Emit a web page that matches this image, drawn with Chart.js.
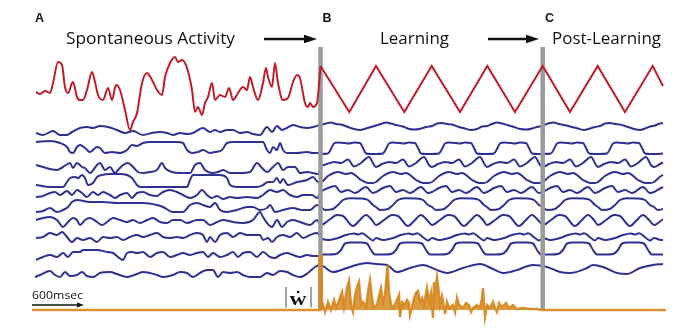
<!DOCTYPE html>
<html><head><meta charset="utf-8">
<script src="https://cdn.jsdelivr.net/npm/chart.js@4.4.0/dist/chart.umd.min.js"></script>
<style>html,body{margin:0;padding:0;background:#fff;}canvas{display:block;}</style>
</head><body>
<canvas id="c" width="700" height="328"></canvas>
<script>
// Time in samples (1 sample ~ 11.6 ms); each trace value = deviation from that trace's resting level.
const panelLetters = ['A', 'B', 'C'];
const phaseTitles = ['Spontaneous Activity', 'Learning', 'Post-Learning'];
const scaleBarLabel = '600msec';
const phaseBoundaries = [285.5, 507.7];
const boundaryTop = 281;
const redLevel = 238;
const orangeLevel = 18;
const laneLevels = [198, 180, 160, 147, 134, 121, 107, 91, 79, 59];

const redTrace = [[1,-2],[5,-4],[10,-1],[15,-3],[18,7],[23,28],[27,25],[30,3],[33,-3],[37,7],[38,8],[42,-7],[45,-10],[48,-10],[52,0],[57,18],[60,8],[63,-5],[68,-10],[73,2],[77,-10],[81,5],[85,0],[90,-20],[95,-40],[98,-32],[102,-23],[107,7],[112,17],[117,10],[122,0],[127,-5],[130,13],[135,27],[140,33],[143,28],[147,30],[152,22],[157,0],[160,-22],[163,-17],[167,-25],[170,-13],[173,-7],[177,7],[180,-10],[185,-5],[190,-7],[194,2],[198,-10],[203,-3],[208,3],[212,0],[215,13],[218,3],[223,-10],[228,7],[231,22],[233,13],[237,3],[240,27],[243,7],[248,-10],[253,-8],[258,8],[262,15],[265,12],[270,-13],[273,-17],[275,-13],[278,-17],[282,-13],[285.5,24],
 [314.3,-22],[341,24],[369.3,-22],[396.7,24],[425,-22],[452.3,24],[480,-22],[507.7,24],[535,-22],[562.7,24],[590,-22],[617.7,24],[628,4]];

const blue1 = [[1,-3],[8,-5],[18,-1],[25,-5],[32,-5],[37,-2],[45,2],[52,3],[58,2],[65,4],[73,3],[82,0],[90,-3],[98,-1],[108,-5],[117,-3],[125,-2],[132,-3],[138,-5],[145,-3],[152,-4],[158,-3],[168,2],[175,-2],[180,0],[185,-2],[192,0],[198,0],[205,-3],[212,-2],[218,-4],[225,-5],[232,3],[237,-2],[242,4],[247,0],[252,2],[258,5],[265,3],[273,2],[278,3],[285,5],
 [291,6.5],[296,7.5],[301,6],[306,5.5],[313,3],[319,1],[325,0],[331,1.5],[336,3],
 [341,4.5],[346,6],[351,7.5],[356,6.5],[361,5],[368,3.5],[374,1],[380,0.5],[386,1.5],[391,3],
 [397,4],[402,6.5],[407,7],[412,6],[417,5.5],[424,3],[430,1.5],[436,0],[442,1],[447,3.5],
 [452,4],[457,6],[462,7.5],[467,6.5],[472,5],[479,3],[485,1],[491,0.5],[497,1.5],[502,3],
 [508,4.5],[513,6.5],[519,7.5],[524,6],[529,5],[537,3],[543,1.5],[549,0],[555,1.5],[560,3],
 [565,4],[570,6.5],[575,7],[580,6],[585,5.5],[593,3],[599,1],[605,0],[610,1.5],[615,3.5],
 [620,4.5],[625,6.5],[628,7]];

const blue2 = [[1,6],[15,7],[25,5],[32,1],[35,-4],[38,-5],[42,1],[45,3],[50,0],[55,-4],[62,1],[65,0],[70,-5],[77,-4],[85,-5],[92,-2],[97,3],[102,2],[108,5],[115,6],[123,6],[132,6],[142,6],[148,5],[152,-2],[157,-5],[163,-4],[168,-2],[175,-5],[180,-4],[187,-2],[192,5],[198,6],[208,6],[228,6],[232,-2],[235,-5],[238,1],[242,-2],[245,5],[248,-2],[252,-5],[262,-5],[272,-4],[278,-5],[283,-5],
 [286,-6],[293,-5.5],[296,-1],[299,4.5],[303,5.5],[310,5],[314,4.5],[319,5.5],[325,5],[328,0],[331,-5.5],[336,-6],
 [341,-6],[348,-5.5],[351,-1],[354,4.5],[358,5.5],[365,5],[369,4.5],[374,5.5],[380,5],[383,0],[386,-5.5],[391,-6],
 [397,-6],[404,-5.5],[407,-1],[410,4.5],[414,5.5],[421,5],[425,4.5],[430,5.5],[436,5],[439,0],[442,-5.5],[447,-6],
 [452,-6],[459,-5.5],[462,-1],[465,4.5],[469,5.5],[476,5],[480,4.5],[485,5.5],[491,5],[494,0],[497,-5.5],[502,-6],
 [508,-6],[516,-5.5],[519,-1],[522,4.5],[526,5.5],[533,5],[537,4.5],[542,5.5],[548,5],[551,0],[554,-5.5],[559,-6],
 [564,-6],[572,-5.5],[575,-1],[578,4.5],[582,5.5],[589,5],[593,4.5],[598,5.5],[604,5],[607,0],[610,-5.5],[615,-6],
 [621,-6],[628,-5.5]];

const blue3 = [[1,3],[8,1],[15,-1],[22,-2],[28,1],[35,5],[38,0],[42,5],[47,1],[50,0],[55,-5],[62,3],[65,5],[70,-2],[75,1],[80,-5],[83,-2],[88,3],[93,5],[98,1],[103,-4],[108,-5],[115,-4],[122,-2],[127,5],[130,0],[137,-4],[145,-5],[155,-5],[160,3],[165,5],[170,-2],[177,-5],[183,-4],[188,-2],[195,-5],[205,-5],[215,-4],[222,5],[227,0],[232,-4],[238,1],[243,5],[248,-2],[253,1],[260,1],[265,-5],[272,-4],[278,-5],[283,-6],
 [286,1],[292,4],[299,6],[306,5],[313,8.5],[319,1.5],[326,5],[334,11],[339,3],
 [341,1],[347,4],[354,6],[361,5],[368,8.5],[374,1.5],[381,5],[389,11],[394,3],
 [397,1],[403,4],[410,6],[417,5],[424,8.5],[430,1.5],[437,5],[445,11],[450,3],
 [452,1],[458,4],[465,6],[472,5],[479,8.5],[485,1.5],[492,5],[500,11],[505,3],
 [508,1],[514,4],[521,6],[528,5],[535,8.5],[541,1.5],[548,5],[556,11],[561,3],
 [563,1],[569,4],[576,6],[583,5],[590,8.5],[596,1.5],[603,5],[611,11],[616,3],
 [619,1],[625,4],[628,5.5]];

const blue4 = [[1,-4],[15,-6],[28,-6],[32,-1],[35,3],[40,4],[43,3],[47,6],[50,3],[53,-4],[58,-2],[62,4],[67,6],[75,7],[85,7],[92,6],[97,3],[102,-4],[105,-6],[122,-6],[135,-6],[152,-6],[155,1],[158,6],[172,6],[185,6],[192,3],[195,-4],[202,-6],[222,-6],[228,-4],[233,-1],[238,-1],[242,3],[245,-2],[248,2],[253,-4],[262,-1],[272,1],[278,4],[283,-1],
 [286,-1],[293,5],[303,9],[311,7],[316,8],[326,1],[333,-2],[338,-2],
 [341,-1],[348,5],[358,9],[366,7],[371,8],[381,1],[388,-2],[393,-2],
 [397,-1],[404,5],[414,9],[422,7],[427,8],[437,1],[444,-2],[449,-2],
 [452,-1],[459,5],[469,9],[477,7],[482,8],[492,1],[499,-2],[504,-2],
 [508,-1],[515,5],[525,9],[533,7],[538,8],[548,1],[555,-2],[560,-2],
 [563,-1],[570,5],[580,9],[588,7],[593,8],[603,1],[610,-2],[615,-2],
 [619,-1],[626,5],[628,6]];

const blue5 = [[1,-3],[8,-2],[15,1],[20,2],[25,-1],[32,3],[37,-1],[42,4],[47,1],[52,-3],[58,2],[63,-1],[68,2],[75,-1],[80,-4],[85,-1],[92,1],[97,-4],[102,1],[108,2],[115,-1],[122,-2],[128,2],[135,4],[142,2],[148,-1],[155,-4],[162,-1],[167,4],[172,-1],[177,-4],[182,-2],[188,-5],[195,-3],[202,-4],[212,-3],[222,-4],[228,-1],[235,4],[242,2],[248,4],[255,-1],[262,-3],[268,-1],[277,-1],[282,-4],
 [286,2],[293,6],[300,8],[306,2],[313,4],[320,1],[331,7],[338,1],
 [341,2],[348,6],[355,8],[361,2],[368,4],[375,1],[386,7],[393,1],
 [397,2],[404,6],[411,8],[417,2],[424,4],[431,1],[442,7],[449,1],
 [452,2],[459,6],[466,8],[472,2],[479,4],[486,1],[497,7],[504,1],
 [508,2],[515,6],[522,8],[528,2],[535,4],[542,1],[553,7],[560,1],
 [563,2],[570,6],[577,8],[583,2],[590,4],[597,1],[608,7],[615,1],
 [619,2],[626,6],[628,7]];

const blue6 = [[1,-5],[8,-4],[15,-1],[22,-5],[28,-3],[33,0],[37,5],[42,7],[55,5],[68,5],[82,4],[95,4],[108,4],[122,2],[128,0],[138,-5],[148,-5],[155,2],[162,4],[168,2],[175,0],[180,4],[185,-3],[192,-5],[202,-3],[212,0],[218,0],[225,-3],[232,-1],[235,2],[240,-5],[248,-3],[258,-1],[267,-3],[275,-3],[282,2],
 [286,0],[290,-3],[298,-2],[303,2],[308,7],[315,8.7],[326,8.5],[333,7],[338,2],
 [341,0],[345,-3],[353,-2],[358,2],[363,7],[370,8.7],[381,8.5],[388,7],[393,2],
 [397,0],[401,-3],[409,-2],[414,2],[419,7],[426,8.7],[437,8.5],[444,7],[449,2],
 [452,0],[456,-3],[464,-2],[469,2],[474,7],[481,8.7],[492,8.5],[499,7],[504,2],
 [508,0],[512,-3],[520,-2],[525,2],[530,7],[537,8.7],[548,8.5],[555,7],[560,2],
 [563,0],[567,-3],[575,-2],[580,2],[585,7],[592,8.7],[603,8.5],[610,7],[615,2],
 [619,0],[623,-3],[628,-2]];

const blue7 = [[1,1],[8,3],[15,4],[22,1],[28,-6],[33,-1],[38,3],[42,1],[45,-4],[50,1],[55,3],[62,-1],[67,-4],[72,-1],[78,3],[85,1],[92,-1],[98,1],[105,-2],[112,1],[118,3],[125,-1],[132,-2],[138,1],[145,1],[152,-2],[162,1],[168,1],[175,-4],[182,-1],[188,1],[198,-1],[208,-2],[218,1],[225,9],[228,4],[232,-2],[237,-6],[242,1],[247,-6],[252,-1],[258,1],[265,-1],[275,-4],[282,1],
 [286,-4],[294,1],[302,6],[308,5],[318,-5],[324,0],[331,6],[337,1],
 [341,-4],[349,1],[357,6],[363,5],[373,-5],[379,0],[386,6],[392,1],
 [397,-4],[405,1],[413,6],[419,5],[429,-5],[435,0],[442,6],[448,1],
 [452,-4],[460,1],[468,6],[474,5],[484,-5],[490,0],[497,6],[503,1],
 [508,-4],[516,1],[524,6],[530,5],[540,-5],[546,0],[553,6],[559,1],
 [563,-4],[571,1],[579,6],[585,5],[595,-5],[601,0],[608,6],[614,1],
 [619,-4],[627,1],[628,1.5]];

const blue8 = [[1,-1],[8,0],[15,4],[22,2],[27,5],[32,0],[37,-5],[42,-1],[48,-3],[55,-1],[62,-5],[68,0],[75,-1],[82,0],[88,-3],[95,0],[102,2],[108,0],[115,2],[122,4],[128,0],[135,-1],[142,0],[148,-1],[155,2],[162,4],[168,2],[172,-5],[175,0],[180,-5],[185,2],[192,4],[198,0],[205,4],[212,2],[218,2],[225,2],[228,-3],[233,-1],[237,-5],[242,0],[248,2],[255,0],[262,4],[268,-1],[275,2],[282,4],
 [286,-1],[293,-3],[303,-1],[311,2],[319,3.5],[323,2.5],[327,3.7],[334,-1],[338,-3.5],
 [341,-1],[348,-3],[358,-1],[366,2],[374,3.5],[378,2.5],[382,3.7],[389,-1],[393,-3.5],
 [397,-1],[404,-3],[414,-1],[422,2],[430,3.5],[434,2.5],[438,3.7],[445,-1],[449,-3.5],
 [452,-1],[459,-3],[469,-1],[477,2],[485,3.5],[489,2.5],[493,3.7],[500,-1],[504,-3.5],
 [508,-1],[515,-3],[525,-1],[533,2],[541,3.5],[545,2.5],[549,3.7],[556,-1],[560,-3.5],
 [563,-1],[570,-3],[580,-1],[588,2],[596,3.5],[600,2.5],[604,3.7],[611,-1],[615,-3.5],
 [619,-1],[626,-3],[628,-3]];

const blue9 = [[1,-11],[8,-8],[15,-6],[22,-8],[28,-4],[33,-8],[38,-3],[45,-3],[48,-1],[62,-1],[72,-3],[78,-4],[83,-8],[88,-11],[92,-4],[97,-3],[102,-4],[108,-3],[115,-8],[122,-4],[128,-3],[135,-8],[142,-6],[148,-4],[155,-6],[162,-4],[168,-3],[173,-8],[178,-4],[185,-8],[192,-6],[198,-3],[203,-8],[208,-4],[215,-3],[222,-8],[228,-3],[235,-8],[240,-9],[245,-6],[252,-4],[258,-6],[265,-8],[272,-6],[278,-7],[284,-7],
 [288,-5.5],[294,-5.5],[301,-5],[306,-1],[310,5.5],[316,6.5],[326,6.5],[332,5.5],[336,-1],[340,-5.5],
 [349,-5.5],[356,-5],[361,-1],[365,5.5],[371,6.5],[381,6.5],[387,5.5],[391,-1],[395,-5.5],
 [405,-5.5],[412,-5],[417,-1],[421,5.5],[427,6.5],[437,6.5],[443,5.5],[447,-1],[451,-5.5],
 [460,-5.5],[467,-5],[472,-1],[476,5.5],[482,6.5],[492,6.5],[498,5.5],[502,-1],[506,-5.5],
 [516,-5.5],[523,-5],[528,-1],[532,5.5],[538,6.5],[548,6.5],[554,5.5],[558,-1],[562,-5.5],
 [571,-5.5],[578,-5],[583,-1],[587,5.5],[593,6.5],[603,6.5],[609,5.5],[613,-1],[617,-5.5],
 [627,-5.5],[628,-5.5]];

const blue10 = [[0,-8],[5,-6],[15,-2],[20,-6],[25,-8],[30,-3],[35,-7],[42,-6],[47,-3],[52,-7],[58,-8],[65,-4],[75,-3],[82,-5],[92,-8],[102,-5],[108,-3],[115,-4],[122,-6],[128,-8],[138,-6],[145,-3],[152,-4],[158,-8],[165,-4],[172,-1],[178,-1],[183,-8],[188,-3],[195,-4],[202,-3],[208,-6],[215,-8],[225,-8],[232,-4],[238,-6],[245,-2],[252,-3],[258,-6],[265,-8],[273,-4],[280,2],[285,4],
 [298,-3],[312,1],[321,4],[332,6],[341,5],[352,4],[362,-3],[375,1],[388,4],[402,-1],[412,-4],[428,1],[445,5],[458,0],[468,-4],[482,-1],[498,4],[512,2],[525,-3],[535,-4],[552,1],[558,4],[568,2],[582,-4],[592,-5],[605,1],[618,4],[628,5]];

const weightChange = [[-3,0],[284,0],[284.5,54],[286.5,54],[287,3],[288,5],[290,-2],[293,8],[296,0],[299,10],[301,2],[305,12],[307,18],[309,3],[312,22],[314,29],[316,5],[318,-2],[320,15],[322,23],[324,28],[326,5],[328,8],[331,3],[333,18],[335,30],[337,12],[339,2],[342,5],[344,14],[346,22],[348,8],[350,15],[352.5,45],[354,18],[356,5],[358,2],[361,8],[364,15],[365,-7],[367,8],[370,5],[372,10],[374,7],[375,-5],[377,3],[379,12],[381,17],[383,19],[385,8],[387,12],[389,5],[392,22],[394,8],[396,17],[398,-8],[399,28],[400,18],[402,33],[403,25],[405,5],[407,14],[409,3],[410,-4],[412,8],[414,2],[418,5],[420,-2],[422,12],[424,5],[428,2],[431,7],[434,5],[436,-2],[438,2],[442,5],[445,2],[447,12],[448,22],[450,-7],[452,5],[455,2],[458,8],[460,2],[462,-2],[464,7],[467,3],[471,7],[474,2],[478,5],[482,1],[488,2],[495,1],[502,1],[506,0],[631,0]];

const blueTraces = [blue1, blue2, blue3, blue4, blue5, blue6, blue7, blue8, blue9, blue10];

function pts(arr, level) { return arr.map(p => ({ x: p[0], y: level + p[1] })); }

const BLUE = '#2e3190';
const RED = '#bc1e2b';
const redSpont = redTrace.filter(p => p[0] <= phaseBoundaries[0]);
const redDriven = redTrace.filter(p => p[0] >= phaseBoundaries[0]);
const datasets = [];
datasets.push({ data: pts(weightChange, orangeLevel), borderColor: 'rgba(214,136,32,0.92)', backgroundColor: 'rgba(214,136,32,0.85)', borderWidth: 2.4, fill: { value: orangeLevel }, tension: 0, pointRadius: 0 });
datasets.push({ data: pts(redDriven, redLevel), borderColor: RED, borderWidth: 2, tension: 0, pointRadius: 0, fill: false });
datasets.push({ data: pts(redSpont, redLevel), borderColor: RED, borderWidth: 2, cubicInterpolationMode: 'monotone', pointRadius: 0, fill: false });
phaseBoundaries.forEach(b => datasets.push({ data: [{ x: b, y: boundaryTop }, { x: b, y: orangeLevel }], borderColor: '#9a9a9a', borderWidth: 4.5, pointRadius: 0, fill: false }));
blueTraces.forEach((tr, i) => datasets.push({ data: pts(tr, laneLevels[i]), borderColor: BLUE, borderWidth: 2, cubicInterpolationMode: 'monotone', pointRadius: 0, fill: false }));

function fitText(c, text, x, y, width, font) {
  c.font = font;
  const w = c.measureText(text).width;
  c.save(); c.translate(x, y); c.scale(width / w, 1); c.fillText(text, 0, 0); c.restore();
}
function arrow(c, x1, x2, y, lw, hl, hh) {
  c.beginPath(); c.lineWidth = lw; c.moveTo(x1, y); c.lineTo(x2 - hl + 1, y); c.stroke();
  c.beginPath(); c.moveTo(x2, y); c.lineTo(x2 - hl, y - hh); c.lineTo(x2 - hl, y + hh); c.closePath(); c.fill();
}

const annot = {
  id: 'annot',
  afterDraw(chart) {
    const c = chart.ctx;
    c.save();
    c.fillStyle = '#111'; c.strokeStyle = '#111'; c.textBaseline = 'alphabetic';
    c.font = 'bold 12.5px "Liberation Sans", Arial, sans-serif';
    c.fillText(panelLetters[0], 35, 21.7);
    c.fillText(panelLetters[1], 322.5, 21.7);
    c.fillText(panelLetters[2], 545, 21.7);
    const tf = '16px "Open Sans", sans-serif';
    fitText(c, phaseTitles[0], 66, 43.5, 169, tf);
    fitText(c, phaseTitles[1], 380, 43.5, 69, tf);
    fitText(c, phaseTitles[2], 552, 43.5, 109, tf);
    arrow(c, 264, 317, 39, 2.7, 13, 4.2);
    arrow(c, 488, 539, 39, 2.7, 13, 4.2);
    fitText(c, scaleBarLabel, 32, 299, 51, '11.5px "Open Sans", sans-serif');
    arrow(c, 32, 84, 305, 1.3, 7, 2.6);
    c.strokeStyle = '#444'; c.lineWidth = 1;
    c.beginPath(); c.moveTo(286, 287); c.lineTo(286, 307.5); c.moveTo(311, 287); c.lineTo(311, 307.5); c.stroke();
    c.fillStyle = '#111';
    fitText(c, 'w', 289.5, 305, 17, 'bold 19px "Liberation Serif", serif');
    c.beginPath(); c.arc(298.2, 292, 1.3, 0, Math.PI * 2); c.fill();
    c.restore();
  }
};

new Chart(document.getElementById('c').getContext('2d'), {
  type: 'line',
  data: { datasets },
  options: {
    responsive: false, animation: false, devicePixelRatio: 1,
    layout: { padding: { left: 32, right: 34, top: 0, bottom: 0 } },
    scales: {
      x: { type: 'linear', min: -3, max: 631, display: false },
      y: { min: 0, max: 328, display: false }
    },
    plugins: { legend: { display: false }, tooltip: { enabled: false } }
  },
  plugins: [annot]
});
</script>
</body></html>
